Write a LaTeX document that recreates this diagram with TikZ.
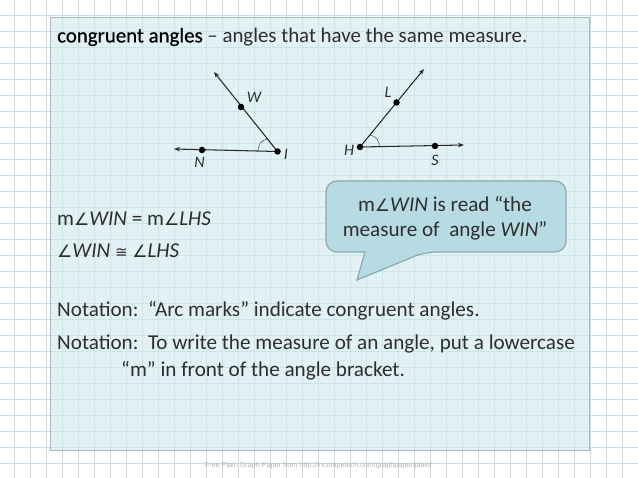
\documentclass[tikz,border=0pt]{standalone}
\usepackage{fontspec}
\setmainfont{Carlito}
\newfontfamily\creditfont{Liberation Sans}
\newfontfamily\symfont{DejaVu Sans}
\usetikzlibrary{arrows.meta,calc}
\newcommand{\angsym}{{\symfont\fontsize{17}{17}\selectfont ∠}}
\newcommand{\congsym}{{\symfont\fontsize{15}{15}\selectfont ≅}}
\definecolor{gridline}{HTML}{C2DEE6}
\definecolor{panelfill}{HTML}{D0E9EE}
\definecolor{panelborder}{HTML}{A9B9BC}
\definecolor{bubblefill}{HTML}{B7DBE3}
\definecolor{bubbleborder}{HTML}{8FA8AE}
\definecolor{inktext}{HTML}{2E2E2E}
\tikzset{
	rayline/.style={line width=1.05pt, draw=black!85, -{Stealth[length=6pt,width=4.5pt]}},
	dotmark/.style={circle, fill=black, inner sep=0pt, minimum size=6.5pt},
	ptlabel/.style={font=\fontsize{16}{16}\selectfont\itshape, text=inktext, inner sep=0pt},
	bodytext/.style={anchor=base west, inner sep=0pt, text=inktext, font=\fontsize{21.15}{21.15}\selectfont},
	bubbletext/.style={anchor=base, inner sep=0pt, text=inktext, font=\fontsize{21.15}{21.15}\selectfont}
}
\begin{document}
\begin{tikzpicture}[x=1pt,y=-1pt]
	\useasboundingbox (0,0) rectangle (638,478);

	\fill[white] (0,0) rectangle (638,478);
	\foreach \gx in {0,...,39} {
		\draw[gridline, line width=0.8pt] ({14.4+16*\gx},0) -- ({14.4+16*\gx},478);
	}
	\foreach \gy in {0,...,29} {
		\draw[gridline, line width=0.8pt] (0,{15.2+16*\gy}) -- (638,{15.2+16*\gy});
	}
	\fill[panelfill, fill opacity=0.6] (50,18) rectangle (589,451);
	\draw[panelborder, line width=1pt] (50,18) rectangle (589,451);

	\node[bodytext, font=\fontsize{20.85}{20.85}\selectfont] (title) at (57,43) {\textcolor{black}{\addfontfeature{FakeBold=0.7}\raisebox{0.6pt}{congruent angles}} -- angles that have the same measure.};

	\coordinate (I) at (277.5,151.5);
	\coordinate (Wend) at (214,72);
	\coordinate (Nend) at (174,149);
	\draw[rayline] (I) -- (Wend);
	\draw[rayline] (I) -- (Nend);
	\draw[thin, black!85] (258.5,150.5) .. controls (258.5,143) and (261,141) .. (267,139);
	\node[dotmark] (W) at (241,107) {};
	\node[dotmark] (N) at (202,150) {};
	\node[dotmark] (Idot) at (I) {};
	\node[ptlabel] (Wlabel) at (254,97) {W};
	\node[ptlabel] (Nlabel) at (199.5,162.5) {N};
	\node[ptlabel] (Ilabel) at (286,154) {I};

	\coordinate (H) at (360,147);
	\coordinate (Lend) at (424,69);
	\coordinate (Send) at (464,145);
	\draw[rayline] (H) -- (Lend);
	\draw[rayline] (H) -- (Send);
	\draw[thin, black!85] (370,135) .. controls (376,136) and (379.5,141) .. (379.5,147);
	\node[dotmark] (L) at (396.5,102.5) {};
	\node[dotmark] (S) at (435,146) {};
	\node[dotmark] (Hdot) at (H) {};
	\node[ptlabel] (Llabel) at (388,92) {L};
	\node[ptlabel] (Slabel) at (435,160) {S};
	\node[ptlabel] (Hlabel) at (349,150) {H};

	\node[bodytext] (eqone) at (57,226) {m\angsym\textit{WIN} = m\angsym\textit{LHS}};
	\node[bodytext] (eqtwo) at (57,258) {\angsym\textit{WIN} \congsym\ \angsym\textit{LHS}};

	\draw[bubbleborder, fill=bubblefill, line width=1.2pt, rounded corners=11pt]
		(326,181) -- (566,181) -- (566,252) -- (425,252)
		[sharp corners] -- (357,280) -- (365,252)
		[rounded corners=11pt] -- (326,252) -- cycle;
	\node[bubbletext] (readone) at (445,212) {m\angsym\textit{WIN} is read “the};
	\node[bubbletext] (readtwo) at (445,237) {measure of\ \ angle \textit{WIN}”};

	\node[bodytext] (noteone) at (57,317) {Notation:\ \ “Arc marks” indicate congruent angles.};
	\node[bodytext] (notetwo) at (57,350) {Notation:\ \ To write the measure of an angle, put a lowercase};
	\node[bodytext] (notethree) at (121,377) {“m” in front of the angle bracket.};

	\node[inner sep=0pt, text=black!30, font=\creditfont\fontsize{7.2}{7.2}\selectfont] (credit) at (318.5,465.5) {Free Plain Graph Paper from http://incompetech.com/graphpaper/plain/};
\end{tikzpicture}
\end{document}
